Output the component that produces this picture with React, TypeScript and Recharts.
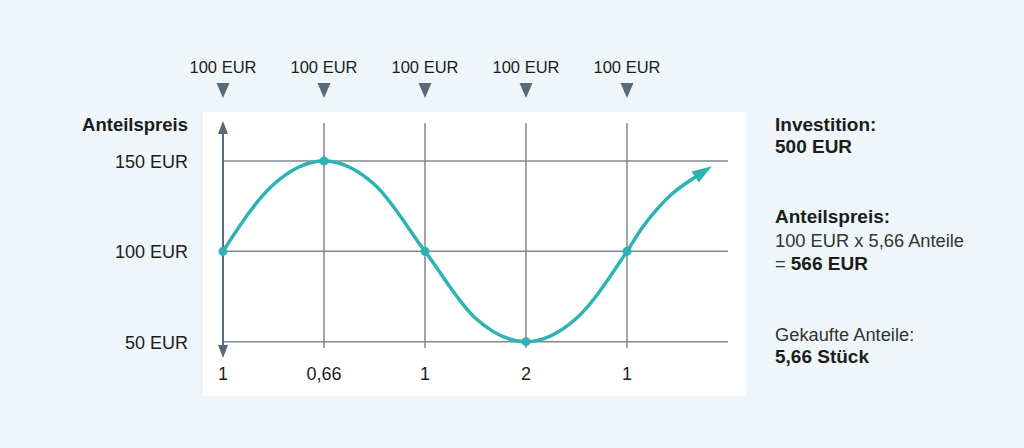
import React from 'react';
import { LineChart, Line, XAxis, YAxis, ReferenceLine, ReferenceDot } from 'recharts';

// ---- data ----
const xValues = [0, 0.5, 1, 1.5, 2, 2.5, 3, 3.5, 4, 4.15, 4.3, 4.45, 4.58, 4.7];
const priceValues = [100, 137, 150, 137, 100, 63, 50, 63, 100, 113, 123.5, 132, 137.5, 142];
const markerX = [0, 1, 2, 3, 4];
const topLabels = ['100 EUR', '100 EUR', '100 EUR', '100 EUR', '100 EUR'];
const bottomLabels = ['1', '0,66', '1', '2', '1'];
const yTicks = [50, 100, 150];
const yDomain = [46.5, 171];
const xDomain = [0, 5];
const yUnit = 'EUR';

const data = xValues.map((x, i) => ({ x, price: priceValues[i] }));

// ---- style ----
const TEAL = '#2db3b3';
const AXIS = '#5b6877';
const GRID = '#7f8891';
const TEXT = '#1c1c1c';
const FONT = '"Liberation Sans", Arial, Helvetica, sans-serif';

const TopTick = (props: any) => {
  const { x, y, payload } = props;
  const i = markerX.indexOf(payload.value);
  return (
    <g>
      <text x={x} y={y - 50} textAnchor="middle" fontSize={16.5} fill={TEXT} fontFamily={FONT}>
        {topLabels[i]}
      </text>
      <path d={`M${x - 6.5},${y - 40} L${x + 6.5},${y - 40} L${x},${y - 25} Z`} fill={AXIS} />
    </g>
  );
};

const BottomTick = (props: any) => {
  const { x, y, payload } = props;
  const i = markerX.indexOf(payload.value);
  return (
    <text x={x} y={y + 32} textAnchor="middle" fontSize={18} fill={TEXT} fontFamily={FONT}>
      {bottomLabels[i]}
    </text>
  );
};

const LeftTick = (props: any) => {
  const { x, y, payload } = props;
  return (
    <text x={x} y={y + 7} textAnchor="end" fontSize={18} fill={TEXT} fontFamily={FONT}>
      {`${payload.value} ${yUnit}`}
    </text>
  );
};

const sign = (v: number) => (v < 0 ? -1 : v > 0 ? 1 : 0);

const LineDot = (props: any) => {
  const { cx, cy, index, payload, points } = props;
  if (markerX.includes(payload.x)) {
    return <circle key={`d${index}`} cx={cx} cy={cy} r={4.5} fill={TEAL} stroke="none" />;
  }
  if (points && index === points.length - 1 && points.length >= 3) {
    const p0 = points[index - 2];
    const p1 = points[index - 1];
    const p2 = points[index];
    const h0 = p1.x - p0.x;
    const h1 = p2.x - p1.x;
    const s0 = (p1.y - p0.y) / h0;
    const s1 = (p2.y - p1.y) / h1;
    const p = (s0 * h1 + s1 * h0) / (h0 + h1);
    const t = (sign(s0) + sign(s1)) * Math.min(Math.abs(s0), Math.abs(s1), 0.5 * Math.abs(p));
    const m = (3 * s1 - t) / 2;
    const len = Math.hypot(1, m);
    const dx = 1 / len;
    const dy = m / len;
    const bx = cx - dx * 3;
    const by = cy - dy * 3;
    const tx = bx + dx * 20;
    const ty = by + dy * 20;
    const nx = -dy * 6.5;
    const ny = dx * 6.5;
    return (
      <path
        key={`d${index}`}
        d={`M${tx},${ty} L${bx + nx},${by + ny} L${bx - nx},${by - ny} Z`}
        fill={TEAL}
        stroke="none"
      />
    );
  }
  return <g key={`d${index}`} />;
};

const UpArrow = (props: any) => {
  const { cx, cy } = props;
  return <path d={`M${cx},${cy - 2} L${cx + 5},${cy + 11} L${cx - 5},${cy + 11} Z`} fill={AXIS} />;
};
const DownArrow = (props: any) => {
  const { cx, cy } = props;
  return <path d={`M${cx},${cy + 10} L${cx + 5},${cy - 3} L${cx - 5},${cy - 3} Z`} fill={AXIS} />;
};

export default function App() {
  return (
    <div
      style={{
        position: 'relative',
        width: 1024,
        height: 448,
        background: '#eef6f9',
        fontFamily: FONT,
        overflow: 'hidden',
      }}
    >
      <style>{'body{margin:0}'}</style>
      <div
        style={{ position: 'absolute', left: 203, top: 112, width: 543, height: 284, background: '#ffffff' }}
      />
      <div style={{ position: 'absolute', left: 0, top: 0 }}>
        <LineChart
          width={1024}
          height={448}
          data={data}
          margin={{ top: 63, right: 296, bottom: 60, left: 123 }}
        >
          <XAxis
            xAxisId="b"
            dataKey="x"
            type="number"
            domain={xDomain}
            ticks={markerX}
            orientation="bottom"
            height={40}
            axisLine={false}
            tickLine={false}
            tickSize={0}
            tickMargin={0}
            tick={<BottomTick />}
            interval={0}
          />
          <XAxis
            xAxisId="t"
            dataKey="x"
            type="number"
            domain={xDomain}
            ticks={markerX}
            orientation="top"
            height={60}
            axisLine={false}
            tickLine={false}
            tickSize={0}
            tickMargin={0}
            tick={<TopTick />}
            interval={0}
          />
          <YAxis
            type="number"
            domain={yDomain}
            ticks={yTicks}
            width={100}
            axisLine={false}
            tickLine={false}
            tickSize={0}
            tickMargin={35}
            tick={<LeftTick />}
            interval={0}
          />
          {yTicks.map((v) => (
            <ReferenceLine key={`h${v}`} xAxisId="b" y={v} stroke={GRID} strokeWidth={1.5} />
          ))}
          {markerX.slice(1).map((v) => (
            <ReferenceLine key={`v${v}`} xAxisId="b" x={v} stroke={GRID} strokeWidth={1.5} />
          ))}
          <ReferenceLine xAxisId="b" x={xDomain[0]} stroke={AXIS} strokeWidth={2} />
          <ReferenceDot xAxisId="b" x={xDomain[0]} y={yDomain[1]} ifOverflow="visible" shape={<UpArrow />} />
          <ReferenceDot xAxisId="b" x={xDomain[0]} y={yDomain[0]} ifOverflow="visible" shape={<DownArrow />} />
          <Line
            xAxisId="b"
            type="monotoneX"
            dataKey="price"
            stroke={TEAL}
            strokeWidth={3.5}
            dot={LineDot}
            activeDot={false}
            isAnimationActive={false}
          />
        </LineChart>
      </div>
      <svg
        width={1024}
        height={448}
        style={{ position: 'absolute', left: 0, top: 0, pointerEvents: 'none' }}
        fontFamily={FONT}
      >
        <text x={188} y={131} textAnchor="end" fontSize={18.5} fontWeight="bold" fill={TEXT}>
          Anteilspreis
        </text>
        <text x={775} y={131} fontSize={19} fontWeight="bold" fill={TEXT}>Investition:</text>
        <text x={775} y={153} fontSize={19} fontWeight="bold" fill={TEXT}>500 EUR</text>
        <text x={775} y={223} fontSize={19} fontWeight="bold" fill={TEXT}>Anteilspreis:</text>
        <text x={775} y={247} fontSize={18.3} fill="#333">100 EUR x 5,66 Anteile</text>
        <text x={775} y={270} fontSize={19} fill={TEXT}>
          <tspan fill="#333" fontSize={18.3}>= </tspan>
          <tspan fontWeight="bold">566 EUR</tspan>
        </text>
        <text x={775} y={341} fontSize={18.3} fill="#333">Gekaufte Anteile:</text>
        <text x={775} y={363} fontSize={19} fontWeight="bold" fill={TEXT}>5,66 Stück</text>
      </svg>
    </div>
  );
}
